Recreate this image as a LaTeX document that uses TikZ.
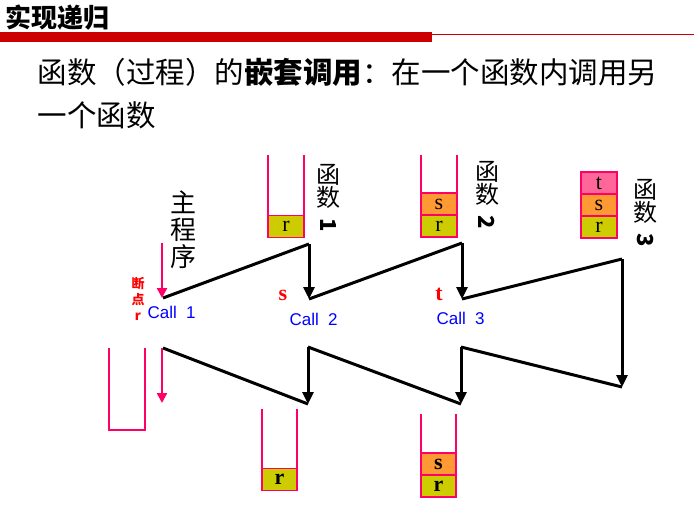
\documentclass[tikz,border=0pt]{standalone}
\usepackage{fontspec}
\setmainfont{Liberation Serif}
\newfontfamily\cjk{Noto Sans CJK SC}
\setsansfont{Liberation Sans}
\usetikzlibrary{arrows.meta}
\definecolor{pk}{HTML}{FF0066}
\definecolor{ol}{HTML}{CCCC00}
\definecolor{og}{HTML}{FF9933}
\definecolor{ro}{HTML}{FF6699}
\begin{document}
\begin{tikzpicture}[x=1pt,y=-1pt,
  wall/.style={draw=pk,line width=1.8pt},
  cell/.style={draw=pk,line width=1.2pt,minimum width=36pt,minimum height=22pt,inner sep=0pt,font=\fontsize{22}{22}\selectfont},
  flow/.style={line width=3pt,-{Triangle[length=12pt,width=11pt]}},
  seg/.style={line width=3pt},
  callt/.style={text=blue,font=\sffamily\fontsize{17}{17}\selectfont,anchor=west},
  vlab/.style={font=\cjk\fontsize{24}{22}\selectfont,align=center,inner sep=0pt}]
\useasboundingbox (0,0) rectangle (694,517);
% header
\node[anchor=west,font=\cjk\bfseries\fontsize{26}{26}\selectfont] (title) at (2,18) {实现递归};
\fill[red!80!black] (0,32) rectangle (432,42);
\draw[red!80!black,line width=0.8pt] (432,34) -- (694,34);
\node[anchor=west,font=\cjk\fontsize{29.5}{29.5}\selectfont] (l1) at (34,72) {函数（过程）的\textbf{嵌套调用}：在一个函数内调用另};
\node[anchor=west,font=\cjk\fontsize{29.5}{29.5}\selectfont] (l2) at (34,115) {一个函数};
% top stacks
\node[cell,fill=ol] (a1) at (286,226.5) {r};
\draw[wall] (268,155) -- (268,237) (304,155) -- (304,237);
\node[cell,fill=ol] (b1) at (439,226) {r};
\node[cell,fill=og] (b2) at (439,204) {s};
\draw[wall] (421,155) -- (421,237) (457,155) -- (457,237);
\node[cell,fill=ol] (c1) at (599,227) {r};
\node[cell,fill=og] (c2) at (599,205) {s};
\node[cell,fill=ro] (c3) at (599,183) {t};
\draw[wall] (581,172) -- (581,238) (617,172) -- (617,238);
% vertical labels
\node[vlab] (f1) at (328,198) {函\\数\\[-10pt]\rotatebox{-90}{\bfseries\fontsize{22}{22}\selectfont 1}};
\node[vlab] (f2) at (487,195) {函\\数\\[-10pt]\rotatebox{-90}{\bfseries\fontsize{22}{22}\selectfont 2}};
\node[vlab] (f3) at (645,213) {函\\数\\[-10pt]\rotatebox{-90}{\bfseries\fontsize{22}{22}\selectfont 3}};
\node[vlab,font=\cjk\fontsize{26}{27}\selectfont] (main) at (183,230) {主\\程\\序};
\node[font=\cjk\bfseries\fontsize{13}{16}\selectfont,text=red,align=center,inner sep=0pt] (bp) at (138,299) {断\\点\\r};
% labels
\node[callt] (c1t) at (144,312) {Call\ \ 1};
\node[callt] (c2t) at (286,319) {Call\ \ 2};
\node[callt] (c3t) at (433,318) {Call\ \ 3};
\node[text=red,font=\bfseries\fontsize{22}{22}\selectfont] (s) at (283,295) {s};
\node[text=red,font=\bfseries\fontsize{22}{22}\selectfont] (t) at (439,294) {t};
% coordinates
\coordinate (p0) at (163,298); \coordinate (p1) at (309,244); \coordinate (p2) at (309,299);
\coordinate (p3) at (462,243); \coordinate (p4) at (462,299); \coordinate (p5) at (622,259);
\coordinate (p6) at (622,387);
\coordinate (q0) at (163,348); \coordinate (q1) at (308,404); \coordinate (q2) at (308,347);
\coordinate (q3) at (461,404); \coordinate (q4) at (461,347);
\draw[seg] (p0) -- (p1); \draw[flow] (p1) -- (p2);
\draw[seg] (p2) -- (p3); \draw[flow] (p3) -- (p4);
\draw[seg] (p4) -- (p5); \draw[flow] (p5) -- (p6);
\draw[seg] (p6) -- (q4); \draw[flow] (q4) -- (q3);
\draw[seg] (q3) -- (q2); \draw[flow] (q2) -- (q1);
\draw[seg] (q1) -- (q0);
% red arrows
\coordinate (r0) at (162,243); \coordinate (r1) at (162,298);
\coordinate (r2) at (162,348); \coordinate (r3) at (162,403);
\draw[pk,line width=2.2pt,-{Triangle[length=10pt,width=10pt]}] (r0) -- (r1);
\draw[pk,line width=2.2pt,-{Triangle[length=10pt,width=10pt]}] (r2) -- (r3);
\draw[pk,line width=2.5pt] (109,348) -- (109,430) -- (145,430) -- (145,348);
% bottom stacks
\node[cell,fill=ol,font=\bfseries\fontsize{22}{22}\selectfont,minimum width=35pt] (d1) at (279.5,479.5) {r};
\draw[wall] (262,409) -- (262,491) (297,409) -- (297,491);
\node[cell,fill=ol,font=\bfseries\fontsize{22}{22}\selectfont,minimum width=35pt] (e1) at (438.5,486) {r};
\node[cell,fill=og,font=\bfseries\fontsize{22}{22}\selectfont,minimum width=35pt] (e2) at (438.5,464) {s};
\draw[wall] (421,414) -- (421,497) (456,414) -- (456,497);
\end{tikzpicture}
\end{document}
